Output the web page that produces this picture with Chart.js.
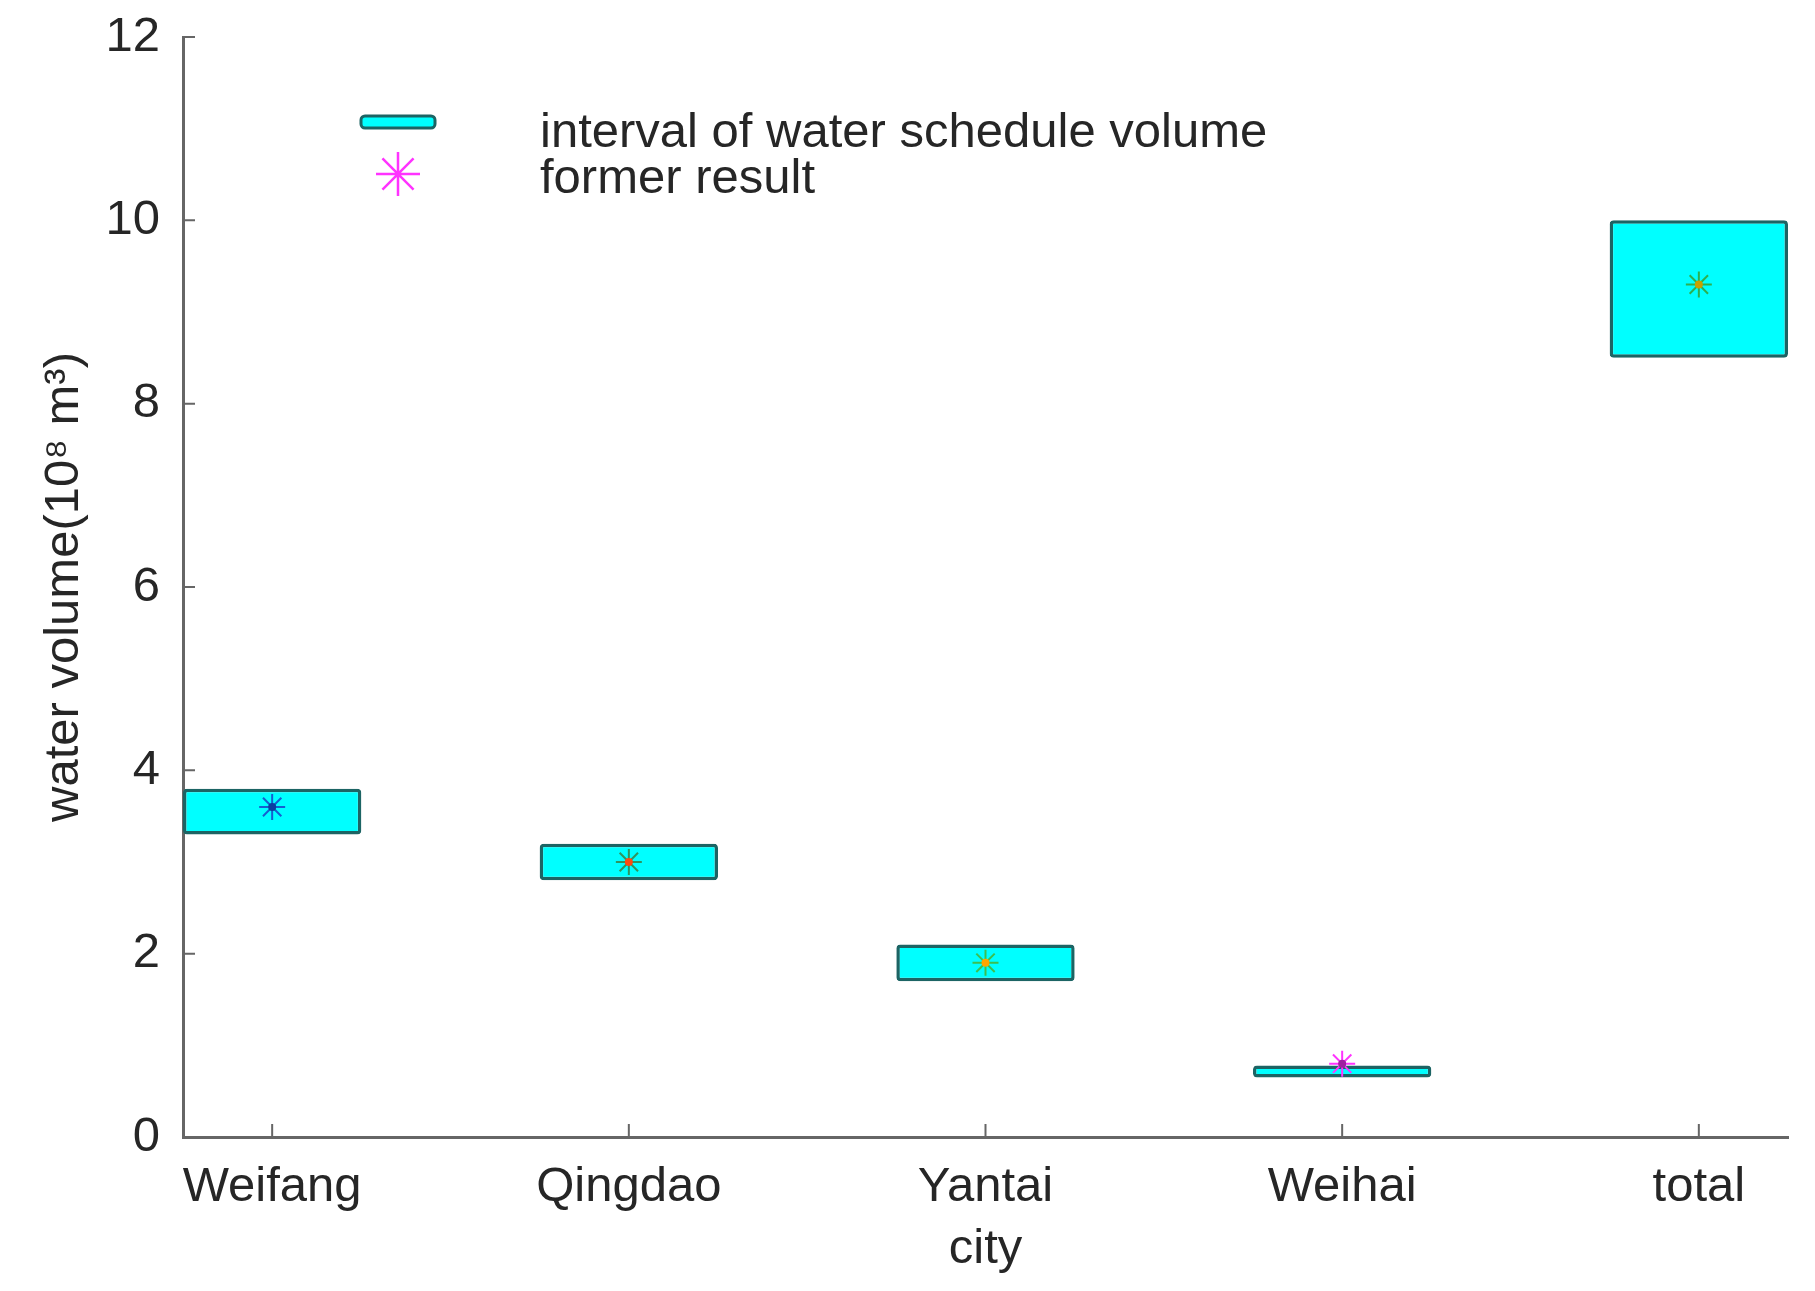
<!DOCTYPE html>
<html>
<head>
<meta charset="utf-8">
<script src="https://cdn.jsdelivr.net/npm/chart.js@4.4.1/dist/chart.umd.min.js"></script>
<style>
  html, body { margin: 0; padding: 0; background: #fff; }
  #wrap { width: 1815px; height: 1291px; }
</style>
</head>
<body>
<div id="wrap"><canvas id="chart" width="1815" height="1291"></canvas></div>
<script>
const cities = ['Weifang', 'Qingdao', 'Yantai', 'Weihai', 'total'];
const intervalLow = [3.3, 2.8, 1.7, 0.65, 8.5];
const intervalHigh = [3.8, 3.2, 2.1, 0.78, 10.0];
const formerResult = [3.6, 3.0, 1.9, 0.8, 9.3];
const yTicks = [0, 2, 4, 6, 8, 10, 12];

const FONT = "'Liberation Sans', Arial, sans-serif";
const TEXT = '#262626';
const AXIS = '#666666';
const font = { family: FONT, size: 49 };

// MATLAB style: tick marks point into the plot
const innerTicks = {
  id: 'innerTicks',
  afterDatasetsDraw(chart) {
    const { ctx, chartArea, scales: { x, y } } = chart;
    ctx.save();
    ctx.strokeStyle = AXIS;
    ctx.lineWidth = 2;
    ctx.beginPath();
    x.ticks.forEach(t => {
      const px = x.getPixelForValue(t.value);
      ctx.moveTo(px, chartArea.bottom);
      ctx.lineTo(px, chartArea.bottom - 13);
    });
    y.ticks.forEach(t => {
      const py = y.getPixelForValue(t.value);
      ctx.moveTo(chartArea.left, py);
      ctx.lineTo(chartArea.left + 12, py);
    });
    ctx.stroke();
    ctx.restore();
  }
};

// legend sits inside the axes, no frame
const insideLegend = {
  id: 'insideLegend',
  afterDraw(chart) {
    const { ctx, chartArea } = chart;
    const bars = chart.data.datasets[0];
    const stars = chart.data.datasets[1];
    const iconX = chartArea.left + 215;
    const textX = chartArea.left + 357;
    const row1 = chartArea.top + 85;
    const row2 = chartArea.top + 137;
    ctx.save();
    // interval swatch
    ctx.beginPath();
    ctx.roundRect(iconX - 37, row1 - 6, 74, 12, 4);
    ctx.fillStyle = bars.backgroundColor;
    ctx.fill();
    ctx.lineWidth = 3;
    ctx.strokeStyle = bars.borderColor;
    ctx.stroke();
    // star swatch
    const r = 22;
    ctx.beginPath();
    for (let k = 0; k < 4; k++) {
      const a = k * Math.PI / 4;
      ctx.moveTo(iconX - r * Math.cos(a), row2 - r * Math.sin(a));
      ctx.lineTo(iconX + r * Math.cos(a), row2 + r * Math.sin(a));
    }
    ctx.strokeStyle = '#ff33ff';
    ctx.lineWidth = 2.5;
    ctx.stroke();
    // labels
    ctx.fillStyle = TEXT;
    ctx.font = '49px ' + FONT;
    ctx.textAlign = 'left';
    ctx.textBaseline = 'middle';
    ctx.fillText(bars.label, textX, row1 + 11);
    ctx.fillText(stars.label, textX, row2 + 5);
    ctx.restore();
  }
};

new Chart(document.getElementById('chart'), {
  type: 'bar',
  data: {
    datasets: [
      {
        label: 'interval of water schedule volume',
        data: cities.map((c, i) => ({ x: i + 1, y: [intervalLow[i], intervalHigh[i]] })),
        backgroundColor: '#00ffff',
        borderColor: '#1c6464',
        borderWidth: 3.5,
        borderSkipped: false,
        borderRadius: 4,
        barPercentage: 0.5,
        categoryPercentage: 1,
        order: 2
      },
      {
        type: 'scatter',
        label: 'former result',
        data: cities.map((c, i) => ({ x: i + 1, y: formerResult[i] })),
        pointStyle: 'star',
        pointRadius: 13,
        pointBorderWidth: 2,
        pointBorderColor: ['#1560d0', '#2e9560', '#3cbf50', '#ff33ff', '#2cb050'],
        order: 1
      },
      {
        type: 'scatter',
        label: '',
        data: cities.map((c, i) => ({ x: i + 1, y: formerResult[i] })),
        pointStyle: 'circle',
        pointRadius: 4,
        pointBorderWidth: 0,
        pointBackgroundColor: ['#0b3fa0', '#ff4a10', '#ffa500', '#a020a0', '#c8a000'],
        order: 0
      }
    ]
  },
  options: {
    responsive: false,
    devicePixelRatio: 1,
    animation: false,
    layout: { padding: { top: 37, right: 27, bottom: 0, left: 0 } },
    plugins: {
      legend: { display: false },
      tooltip: { enabled: false }
    },
    scales: {
      x: {
        type: 'linear',
        min: 0.75,
        max: 5.25,
        offset: false,
        grid: { display: false },
        border: { display: true, color: AXIS, width: 3 },
        afterBuildTicks: s => { s.ticks = cities.map((c, i) => ({ value: i + 1 })); },
        ticks: {
          stepSize: 1,
          autoSkip: false,
          maxRotation: 0,
          color: TEXT,
          font: font,
          padding: 13,
          callback: v => cities[Math.round(v) - 1]
        },
        title: {
          display: true,
          text: 'city',
          color: TEXT,
          font: font,
          padding: { top: 0, bottom: 12 }
        },
        afterFit: s => { s.height = 154; }
      },
      y: {
        type: 'linear',
        min: yTicks[0],
        max: yTicks[yTicks.length - 1],
        grid: { display: false },
        border: { display: true, color: AXIS, width: 3 },
        afterBuildTicks: s => { s.ticks = yTicks.map(v => ({ value: v })); },
        ticks: {
          stepSize: 2,
          color: TEXT,
          font: font,
          padding: 15
        },
        title: {
          display: true,
          text: 'water volume(10⁸ m³)',
          color: TEXT,
          font: font,
          padding: { top: 35, bottom: 0 }
        },
        afterFit: s => {
          s.width = 183;
          s.paddingTop = 0;
          s.paddingBottom = 0;
        }
      }
    }
  },
  plugins: [innerTicks, insideLegend]
});
</script>
</body>
</html>
